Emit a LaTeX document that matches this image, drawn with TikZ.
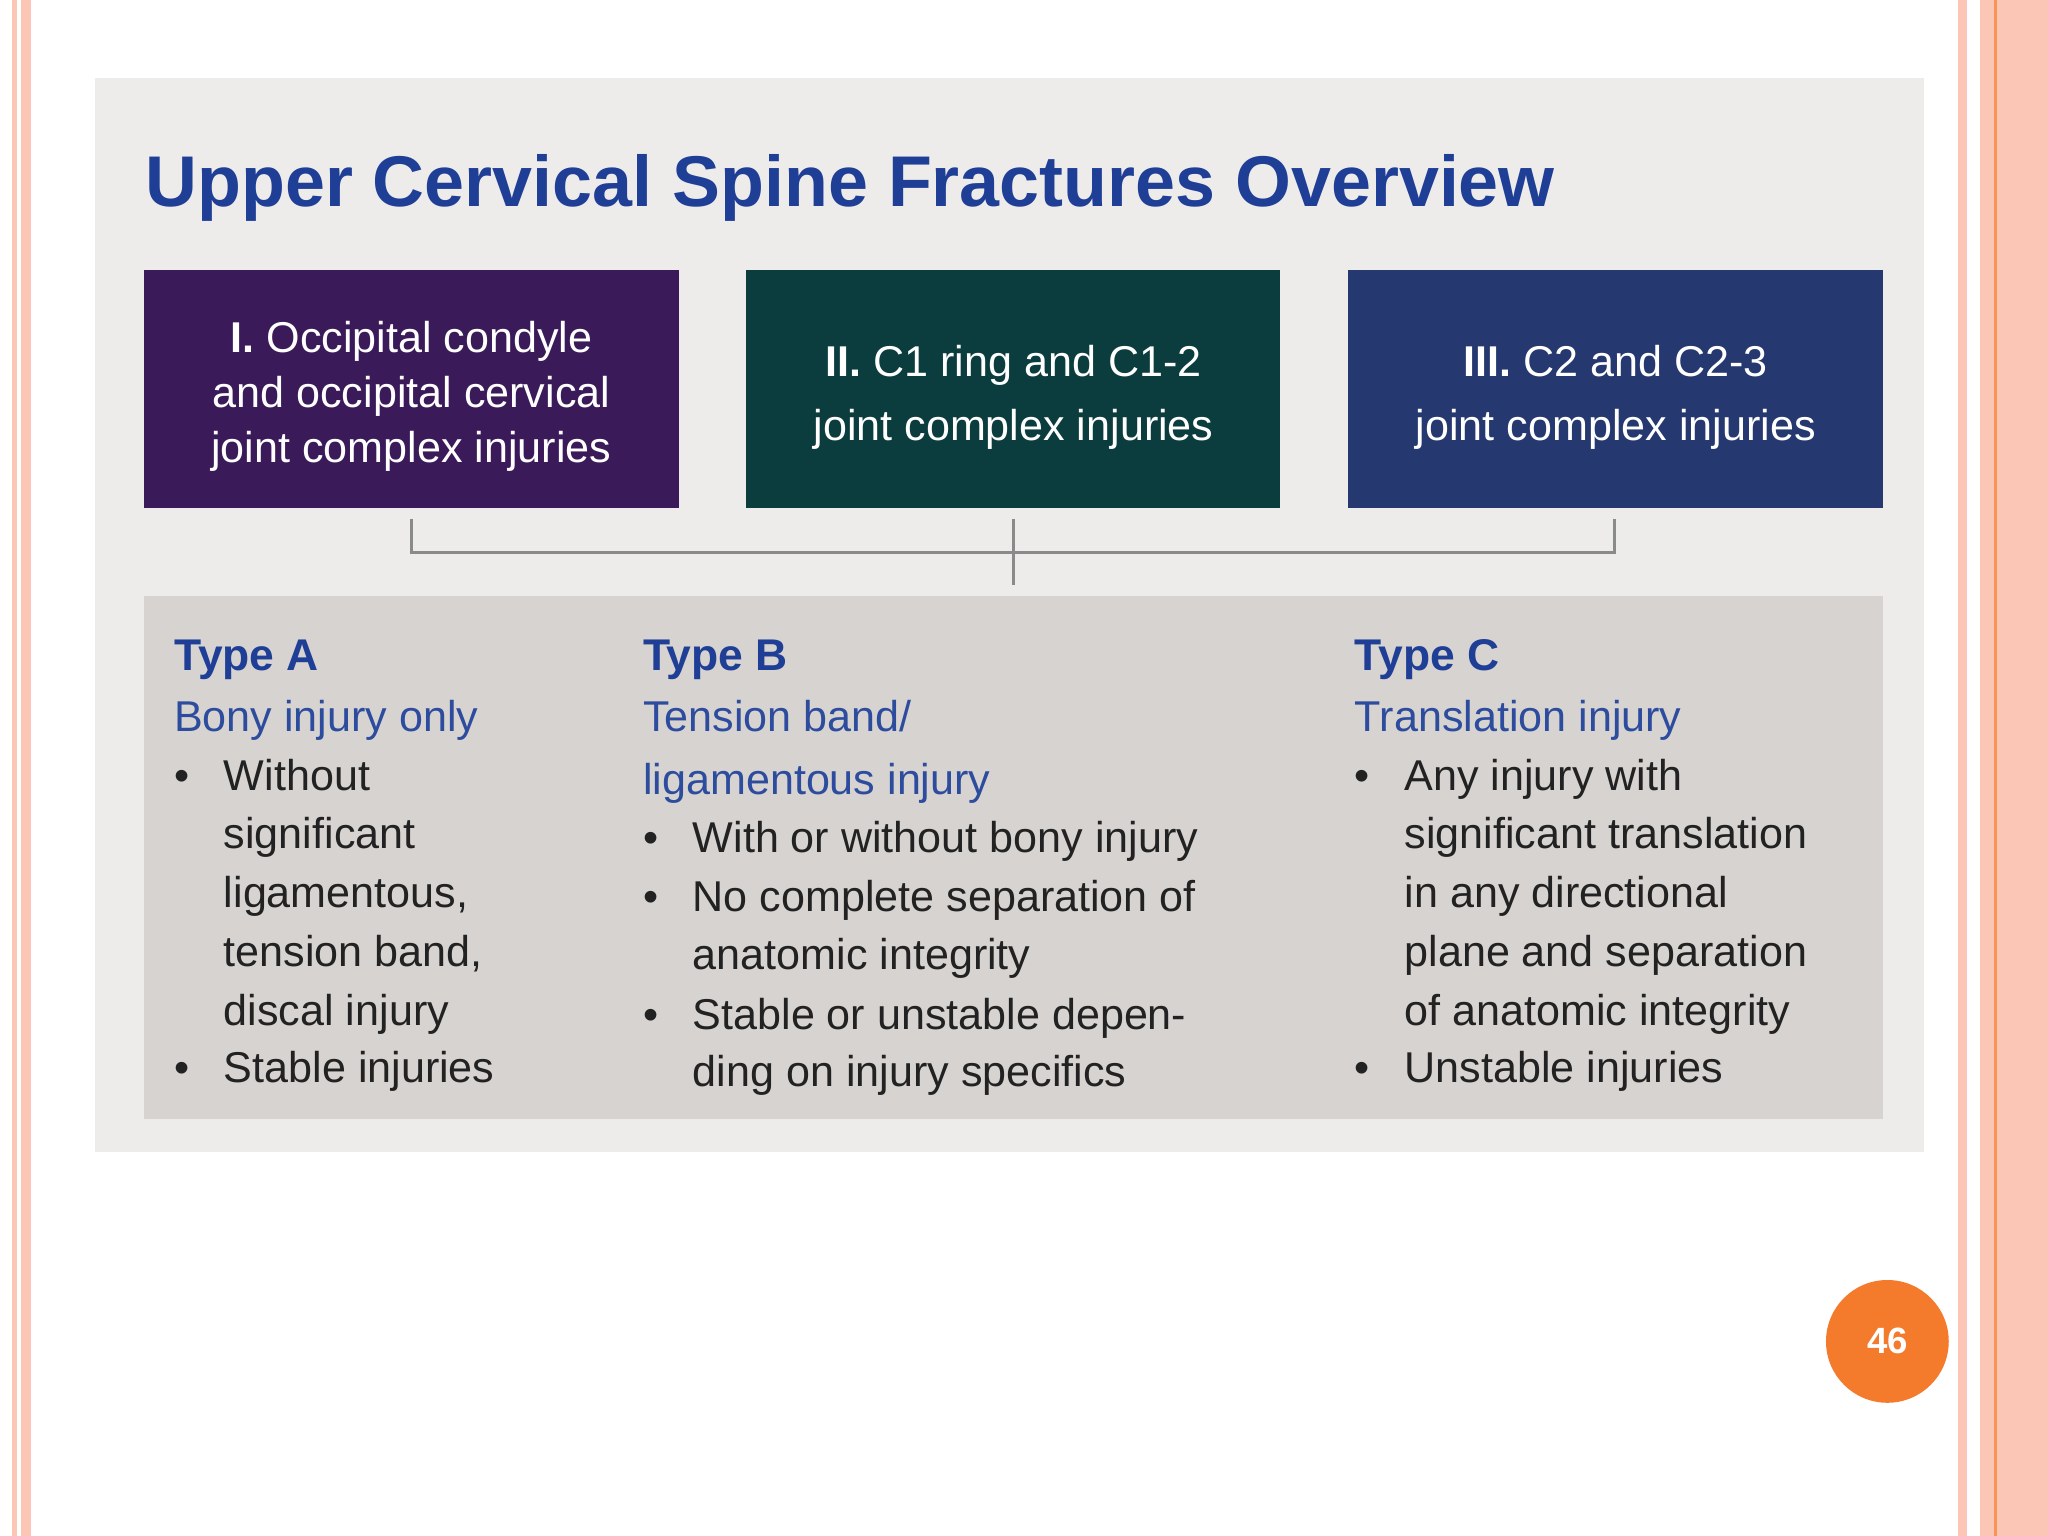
\documentclass[tikz,border=0pt]{standalone}
\usepackage{fontspec}
\setmainfont{Liberation Sans}
\definecolor{panel}{HTML}{EEECEB}
\definecolor{lower}{HTML}{D6D3D1}
\definecolor{boxa}{HTML}{3B1A5A}
\definecolor{boxb}{HTML}{0C3D3E}
\definecolor{boxc}{HTML}{25386F}
\definecolor{ttl}{HTML}{1F3E96}
\definecolor{sub}{HTML}{2D4C9E}
\definecolor{body}{HTML}{222222}
\definecolor{salmon}{HTML}{FCC6B6}
\definecolor{orng}{HTML}{F47A2C}
\definecolor{conn}{HTML}{8A8A8A}
\tikzset{
 ln/.style={anchor=base west,inner sep=0pt,font=\fontsize{16.5}{20}\selectfont,text=body},
 hd/.style={anchor=base west,inner sep=0pt,font=\fontsize{17}{20}\selectfont\bfseries,text=ttl},
 sb/.style={anchor=base west,inner sep=0pt,font=\fontsize{16.5}{20}\selectfont,text=sub},
 bx/.style={anchor=base,inner sep=0pt,font=\fontsize{16.5}{20}\selectfont,text=white},
 bul/.style={anchor=base west,inner sep=0pt,font=\fontsize{16.5}{20}\selectfont,text=body},
}
\newcommand{\bt}{\textbullet}
\begin{document}
\begin{tikzpicture}[x=0.5pt,y=-0.5pt]
\useasboundingbox (0,0) rectangle (1568,1176);
\fill[white] (0,0) rectangle (1568,1176);
% stripes
\fill[salmon] (9,0) rectangle (13,1176);
\fill[salmon] (16,0) rectangle (24,1176);
\fill[salmon] (1499,0) rectangle (1506,1176);
\fill[salmon] (1516,0) rectangle (1568,1176);
\fill[orng!80] (1527,0) rectangle (1529,1176);
% panel
\fill[panel] (73,60) rectangle (1473,882);
\node[anchor=base west,inner sep=0pt,font=\fontsize{27.5}{30}\selectfont\bfseries,text=ttl] (title) at (111,158) {Upper Cervical Spine Fractures Overview};
% boxes
\fill[boxa] (110,207) rectangle (520,389);
\fill[boxb] (571,207) rectangle (980,389);
\fill[boxc] (1032,207) rectangle (1442,389);
\node[bx] (a1) at (315,270) {\textbf{I.} Occipital condyle};
\node[bx] (a2) at (315,312) {and occipital cervical};
\node[bx] (a3) at (315,354) {joint complex injuries};
\node[bx] (b1) at (776,288) {\textbf{II.} C1 ring and C1-2};
\node[bx] (b2) at (776,337) {joint complex injuries};
\node[bx] (c1) at (1237,288) {\textbf{III.} C2 and C2-3};
\node[bx] (c2) at (1237,337) {joint complex injuries};
% connector
\coordinate (p1) at (315,397);
\coordinate (p2) at (1236,397);
\coordinate (m1) at (776,397);
\coordinate (m2) at (776,448);
\draw[conn,line width=1.2pt] (p1) -- (315,423) -- (1236,423) -- (p2);
\draw[conn,line width=1.2pt] (m1) -- (m2);
% lower panel
\fill[lower] (110,456) rectangle (1442,857);
% column A
\node[hd] (ta) at (133,513) {Type A};
\node[sb] (sa) at (133,560) {Bony injury only};
\node[bul] at (133,605) {\bt}; \node[ln] at (171,605) {Without};
\node[ln] at (171,650) {significant};
\node[ln] at (171,695) {ligamentous,};
\node[ln] at (171,740) {tension band,};
\node[ln] at (171,785) {discal injury};
\node[bul] at (133,829) {\bt}; \node[ln] at (171,829) {Stable injuries};
% column B
\node[hd] (tb) at (492,513) {Type B};
\node[sb] at (492,560) {Tension band/};
\node[sb] at (492,608) {ligamentous injury};
\node[bul] at (492,653) {\bt}; \node[ln] at (530,653) {With or without bony injury};
\node[bul] at (492,698) {\bt}; \node[ln] at (530,698) {No complete separation of};
\node[ln] at (530,742) {anatomic integrity};
\node[bul] at (492,788) {\bt}; \node[ln] at (530,788) {Stable or unstable depen-};
\node[ln] at (530,832) {ding on injury specifics};
% column C
\node[hd] (tc) at (1037,513) {Type C};
\node[sb] at (1037,560) {Translation injury};
\node[bul] at (1037,605) {\bt}; \node[ln] at (1075,605) {Any injury with};
\node[ln] at (1075,650) {significant translation};
\node[ln] at (1075,695) {in any directional};
\node[ln] at (1075,740) {plane and separation};
\node[ln] at (1075,785) {of anatomic integrity};
\node[bul] at (1037,829) {\bt}; \node[ln] at (1075,829) {Unstable injuries};
% page number
\node[circle,fill=orng,minimum size=47pt,inner sep=0pt,text=white,font=\fontsize{14}{16}\selectfont\bfseries] (pg) at (1445,1027) {46};
\end{tikzpicture}
\end{document}
